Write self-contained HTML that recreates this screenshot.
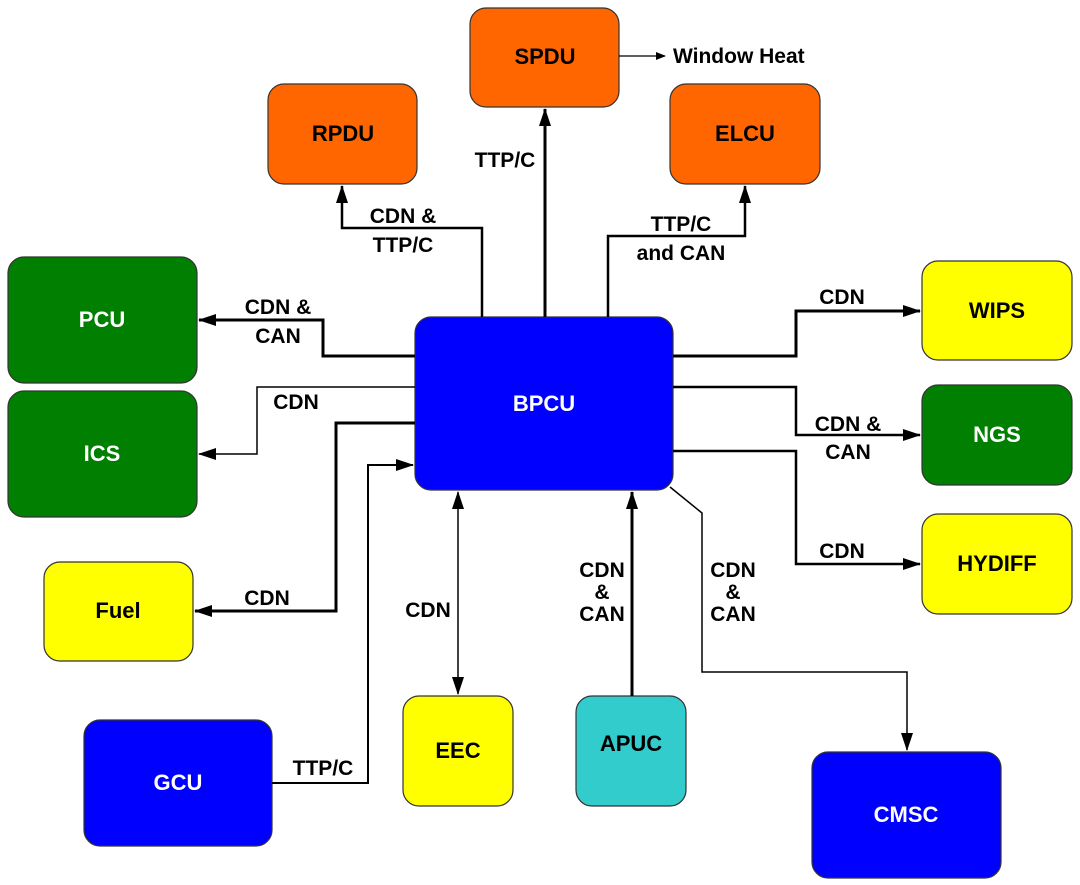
<!DOCTYPE html>
<html><head><meta charset="utf-8"><style>
html,body{margin:0;padding:0;background:#fff;}
svg{display:block;}
text{font-family:"Liberation Sans",Arial,sans-serif;font-weight:bold;}
</style></head><body>
<svg width="1080" height="885" viewBox="0 0 1080 885" xmlns="http://www.w3.org/2000/svg">
<defs>
<marker id="a" markerWidth="10" markerHeight="8" refX="9" refY="4" orient="auto" markerUnits="userSpaceOnUse"><path d="M0,0 L10,4 L0,8 Z" fill="#000"/></marker>
<marker id="b" markerWidth="18" markerHeight="12" refX="17" refY="6" orient="auto" markerUnits="userSpaceOnUse"><path d="M0,0 L18,6 L0,12 Z" fill="#000"/></marker>
<marker id="bs" markerWidth="18" markerHeight="12" refX="1" refY="6" orient="auto" markerUnits="userSpaceOnUse"><path d="M18,0 L0,6 L18,12 Z" fill="#000"/></marker>
</defs>
<g stroke="#333" stroke-width="1.2">
<rect x="470" y="8" width="149" height="99" rx="16" fill="#ff6600"/>
<rect x="268" y="84" width="149" height="100" rx="16" fill="#ff6600"/>
<rect x="670" y="84" width="150" height="100" rx="16" fill="#ff6600"/>
<rect x="8" y="257" width="189" height="126" rx="16" fill="#007f00"/>
<rect x="8" y="391" width="189" height="126" rx="16" fill="#007f00"/>
<rect x="922" y="261" width="150" height="99" rx="16" fill="#ffff00"/>
<rect x="922" y="385" width="150" height="100" rx="16" fill="#007f00"/>
<rect x="922" y="514" width="150" height="100" rx="16" fill="#ffff00"/>
<rect x="44" y="562" width="149" height="99" rx="16" fill="#ffff00"/>
<rect x="415" y="317" width="258" height="173" rx="16" fill="#0000ff"/>
<rect x="84" y="720" width="188" height="126" rx="16" fill="#0000ff"/>
<rect x="403" y="696" width="110" height="110" rx="16" fill="#ffff00"/>
<rect x="576" y="696" width="110" height="110" rx="16" fill="#33cccc"/>
<rect x="812" y="752" width="189" height="126" rx="16" fill="#0000ff"/>
</g>
<g fill="none" stroke="#000">
<path d="M545,317 V109" stroke-width="3" marker-end="url(#b)"/>
<path d="M482,317 V228 H342 V186" stroke-width="2.5" marker-end="url(#b)"/>
<path d="M608,317 V236 H745 V186" stroke-width="2.5" marker-end="url(#b)"/>
<path d="M619,56 H665" stroke-width="1.2" marker-end="url(#a)"/>
<path d="M415,356 H323 V320 H199" stroke-width="3" marker-end="url(#b)"/>
<path d="M415,387 H257 V454 H199" stroke-width="1.5" marker-end="url(#b)"/>
<path d="M415,423 H336 V611 H195" stroke-width="3" marker-end="url(#b)"/>
<path d="M272,783 H368 V465 H413" stroke-width="2" marker-end="url(#b)"/>
<path d="M458,492 V694" stroke-width="1.5" marker-start="url(#bs)" marker-end="url(#b)"/>
<path d="M632,696 V492" stroke-width="3" marker-end="url(#b)"/>
<path d="M670,487 L702,513 V672 H907 V750" stroke-width="1.5" marker-end="url(#b)"/>
<path d="M673,356 H796 V311 H920" stroke-width="3" marker-end="url(#b)"/>
<path d="M673,387 H796 V435 H920" stroke-width="2.5" marker-end="url(#b)"/>
<path d="M673,451 H796 V564 H920" stroke-width="2.5" marker-end="url(#b)"/>
</g>
<g font-size="22" text-anchor="middle">
<text x="545" y="64">SPDU</text>
<text x="343" y="141">RPDU</text>
<text x="745" y="141">ELCU</text>
<text x="102" y="327" fill="#fff">PCU</text>
<text x="102" y="461" fill="#fff">ICS</text>
<text x="997" y="318">WIPS</text>
<text x="997" y="442" fill="#fff">NGS</text>
<text x="997" y="571">HYDIFF</text>
<text x="118" y="618">Fuel</text>
<text x="544" y="411" fill="#fff">BPCU</text>
<text x="178" y="790" fill="#fff">GCU</text>
<text x="458" y="758">EEC</text>
<text x="631" y="751">APUC</text>
<text x="906" y="822" fill="#fff">CMSC</text>
</g>
<g font-size="21" text-anchor="middle">
<text x="673" y="63" text-anchor="start">Window Heat</text>
<text x="505" y="167">TTP/C</text>
<text x="403" y="223">CDN &amp;</text>
<text x="403" y="252">TTP/C</text>
<text x="681" y="231">TTP/C</text>
<text x="681" y="260">and CAN</text>
<text x="278" y="314">CDN &amp;</text>
<text x="278" y="343">CAN</text>
<text x="296" y="409">CDN</text>
<text x="267" y="605">CDN</text>
<text x="323" y="775">TTP/C</text>
<text x="428" y="617">CDN</text>
<text x="602" y="577">CDN</text>
<text x="602" y="599">&amp;</text>
<text x="602" y="621">CAN</text>
<text x="733" y="577">CDN</text>
<text x="733" y="599">&amp;</text>
<text x="733" y="621">CAN</text>
<text x="842" y="304">CDN</text>
<text x="848" y="431">CDN &amp;</text>
<text x="848" y="459">CAN</text>
<text x="842" y="558">CDN</text>
</g>
</svg>
</body></html>
